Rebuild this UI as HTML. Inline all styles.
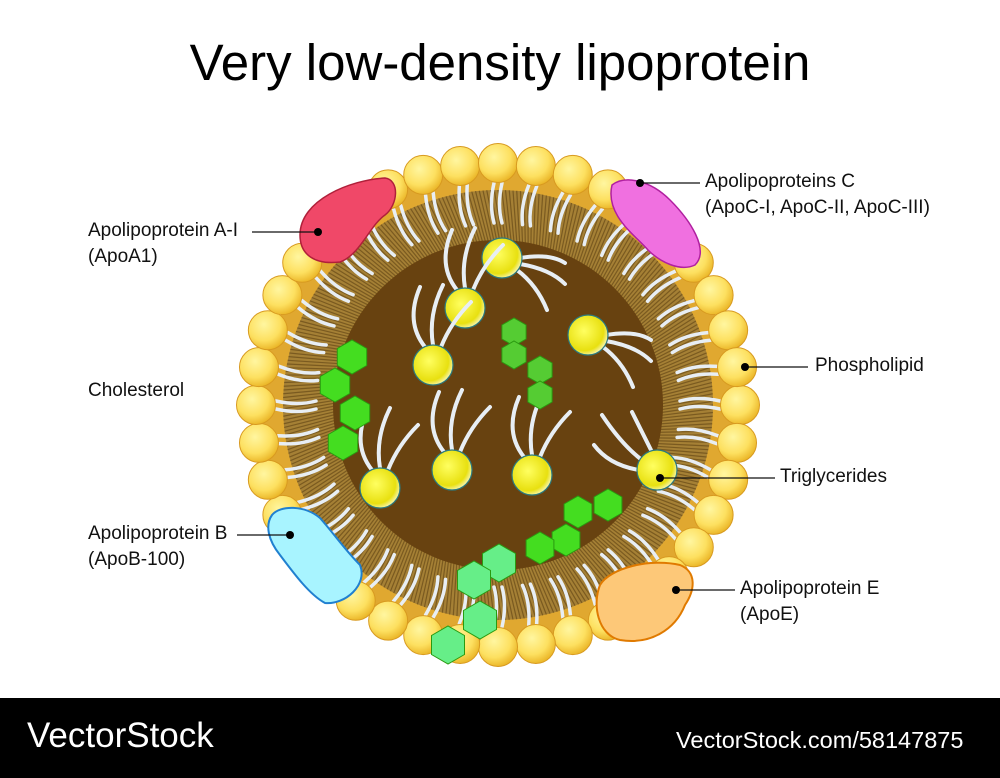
<!DOCTYPE html>
<html><head><meta charset="utf-8"><style>
body{margin:0;width:1000px;height:778px;background:#fff;overflow:hidden;font-family:"Liberation Sans",sans-serif;position:relative}
.t{position:absolute;font-size:19px;color:#111;line-height:26px}
</style></head><body>
<div style="position:absolute;left:0;width:1000px;top:33px;text-align:center;font-size:51px;color:#000">Very low-density lipoprotein</div>
<svg id="s" width="1000" height="698" style="position:absolute;left:0;top:0">
<defs>
<radialGradient id="yb" cx="0.4" cy="0.35" r="0.7"><stop offset="0" stop-color="#fff6a0"/><stop offset="0.6" stop-color="#fde060"/><stop offset="1" stop-color="#e8b020"/></radialGradient>
<radialGradient id="tg" cx="0.4" cy="0.4" r="0.7"><stop offset="0" stop-color="#ffff60"/><stop offset="0.7" stop-color="#e8e010"/><stop offset="1" stop-color="#ffffff"/></radialGradient>
</defs>
<g id="g"></g>
</svg>
<div class="t" style="left:88px;top:218px">Apolipoprotein A-I<br>(ApoA1)</div>
<div class="t" style="left:705px;top:169px">Apolipoproteins C<br>(ApoC-I, ApoC-II, ApoC-III)</div>
<div class="t" style="left:815px;top:353px">Phospholipid</div>
<div class="t" style="left:88px;top:378px">Cholesterol</div>
<div class="t" style="left:780px;top:464px">Triglycerides</div>
<div class="t" style="left:88px;top:521px">Apolipoprotein B<br>(ApoB-100)</div>
<div class="t" style="left:740px;top:576px">Apolipoprotein E<br>(ApoE)</div>
<div style="position:absolute;left:0;top:698px;width:1000px;height:80px;background:#000"></div>
<div style="position:absolute;left:27px;top:716px;color:#fff;font-size:35px">VectorStock</div>
<div style="position:absolute;left:676px;top:727px;color:#fff;font-size:23.5px">VectorStock.com/58147875</div>
<script>
const g=document.getElementById('g');let h='';
const cx=498,cy=405;
h+=`<circle cx="${cx}" cy="${cy}" r="235" fill="#e0a830"/>`;
h+=`<circle cx="${cx}" cy="${cy}" r="215" fill="#a58035"/>`;
for(let i=0;i<360;i++){const a=i*Math.PI/180;const r1=215,r2=160;
h+=`<line x1="${cx+r1*Math.cos(a)}" y1="${cy+r1*Math.sin(a)}" x2="${cx+r2*Math.cos(a+0.05)}" y2="${cy+r2*Math.sin(a+0.05)}" stroke="#7a5a20" stroke-width="1.2"/>`;}
h+=`<circle cx="${cx}" cy="${cy}" r="165" fill="#684210"/>`;
const N=40;
for(let i=0;i<N;i++){const a=i*2*Math.PI/N;const c=Math.cos(a),s=Math.sin(a);
for(const d of[-4,4]){h+=`<path d="M${cx+(222)*c+d*s} ${cy+222*s-d*c} Q${cx+200*c+(d+5)*s} ${cy+200*s-(d+5)*c} ${cx+182*c+d*s} ${cy+182*s-d*c}" stroke="#e8eef4" stroke-width="3.5" fill="none" stroke-linecap="round"/>`;}}
for(let i=0;i<N;i++){const a=i*2*Math.PI/N;h+=`<circle cx="${cx+242*Math.cos(a)}" cy="${cy+242*Math.sin(a)}" r="19.5" fill="url(#yb)" stroke="#d89a20" stroke-width="1"/>`;}
const tg=[[502,258,0],[465,308,1],[588,335,0],[433,365,1],[452,470,1],[532,475,1],[380,488,1],[657,470,2]];
for(const[x,y,t] of tg){let p='';
if(t==0){p=`M${x+18} ${y} q30 -5 45 5 M${x+18} ${y+6} q30 5 45 20 M${x+15} ${y+12} q20 15 30 40`;}
if(t==1){p=`M${x-8} ${y-18} q-20 -25 -5 -60 M${x} ${y-20} q-5 -30 10 -60 M${x+8} ${y-18} q10 -25 30 -45`;}
if(t==2){p=`M${x-18} ${y} q-30 -5 -45 -25 M${x-15} ${y-10} q-20 -15 -40 -45 M${x-5} ${y-18} q-10 -20 -20 -40`;}
h+=`<path d="${p}" stroke="#e8eef4" stroke-width="4" fill="none" stroke-linecap="round"/>`;
h+=`<circle cx="${x}" cy="${y}" r="20" fill="url(#tg)" stroke="#2a7a80" stroke-width="1.2"/>`;}
function hex(x,y,r,c){let p=[];for(let k=0;k<6;k++){const a=k*Math.PI/3+Math.PI/6;p.push((x+r*Math.cos(a)).toFixed(1)+','+(y+r*Math.sin(a)).toFixed(1));}
return `<polygon points="${p.join(' ')}" fill="${c}" stroke="#2a9a10" stroke-width="1"/>`;}
const G='#44dd20',G2='#55cc33',G3='#66ee88';
[[352,357],[335,385],[355,413],[343,443]].forEach(p=>h+=hex(p[0],p[1],17,G));
[[514,332],[514,355],[540,370],[540,395]].forEach(p=>h+=hex(p[0],p[1],14,G2));
[[608,505],[578,512],[566,540],[540,548]].forEach(p=>h+=hex(p[0],p[1],16,G));
[[499,563],[474,580],[480,620],[448,645]].forEach(p=>h+=hex(p[0],p[1],19,G3));
h+=`<path d="M300 235 C300 200 350 180 385 178 C400 180 398 205 385 215 C370 225 360 255 340 262 C315 265 300 255 300 235Z" fill="#f04868" stroke="#b0203a" stroke-width="1.5"/>`;
h+=`<path d="M612 185 C625 175 650 180 670 200 C690 220 710 250 695 265 C680 272 660 262 648 250 C635 235 605 215 612 185Z" fill="#f070e0" stroke="#b020a0" stroke-width="1.5"/>`;
h+=`<path d="M272 515 C280 505 305 505 320 518 C335 535 345 550 360 565 C368 585 345 605 325 603 C310 595 295 575 280 555 C268 540 265 525 272 515Z" fill="#a8f4ff" stroke="#2080d0" stroke-width="2"/>`;
h+=`<path d="M600 585 C610 568 650 558 680 565 C697 572 695 590 685 605 C675 630 650 645 620 640 C598 635 592 605 600 585Z" fill="#fdc878" stroke="#e07a00" stroke-width="2"/>`;
const L=[[252,232,318,232],[640,183,700,183],[745,367,808,367],[660,478,775,478],[237,535,290,535],[676,590,735,590]];
for(const[a,b,c,d] of L){h+=`<line x1="${a}" y1="${b}" x2="${c}" y2="${d}" stroke="#111" stroke-width="1.2"/>`;}
[[318,232],[640,183],[745,367],[660,478],[290,535],[676,590]].forEach(p=>h+=`<circle cx="${p[0]}" cy="${p[1]}" r="4" fill="#000"/>`);
g.innerHTML=h;
</script>
</body></html>
